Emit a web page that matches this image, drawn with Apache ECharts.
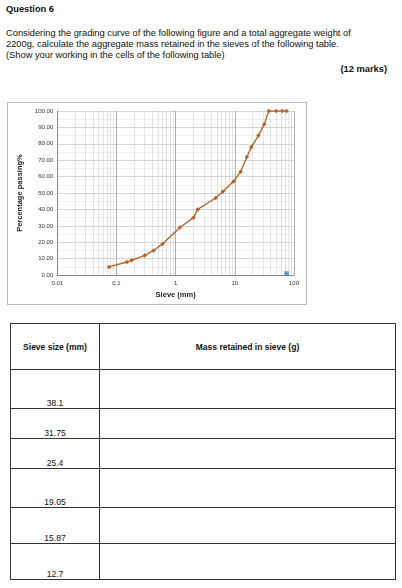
<!DOCTYPE html>
<html><head><meta charset="utf-8">
<script src="https://cdn.jsdelivr.net/npm/echarts@6/dist/echarts.min.js"></script>
<style>
body{margin:0;width:402px;height:588px;background:#fff;font-family:"Liberation Sans",Arial,sans-serif;color:#111;position:relative;overflow:hidden}
.t{position:absolute;font-size:9.3px;line-height:11px}
#c{position:absolute;left:7px;top:102px;width:300px;height:203px;border:1px solid #bbb;box-sizing:border-box}
table{position:absolute;left:10px;top:323px;width:386px;border-collapse:collapse;font-size:8.5px}
td{border:1.5px solid #333;padding:0;text-align:center;vertical-align:bottom}
</style></head><body>
<div class="t" style="left:6px;top:4px;font-weight:bold">Question 6</div>
<div class="t" style="left:6px;top:28px">Considering the grading curve of the following figure and a total aggregate weight of<br>2200g, calculate the aggregate mass retained in the sieves of the following table.<br>(Show your working in the cells of the following table)</div>
<div class="t" style="right:15px;top:64px;font-weight:bold">(12 marks)</div>
<div id="c"></div>
<table id="tb"></table>
<script>
var sieves=[0.075,0.15,0.18,0.3,0.425,0.6,1.18,2,2.36,4.75,6.3,9.5,12.5,16,19,25,31.5,37.5,50,63,75];
var passing=[5,8,9,12,15,19,29,35,40,47,51,57,63,72,78,85,92,100,100,100,100];
var extraPoint=[[75,1]];
var tableSieves=["38.1","31.75","25.4","19.05","15.87","12.7"];
var rowHeights=[39,30,30,39,36,36];
var tb=document.getElementById('tb');
tb.innerHTML='<tr style="height:46px"><td style="width:88px;vertical-align:middle;font-weight:bold">Sieve size (mm)</td><td style="vertical-align:middle;font-weight:bold">Mass retained in sieve (g)</td></tr>'+
tableSieves.map(function(s,i){return '<tr style="height:'+rowHeights[i]+'px"><td>'+s+'</td><td></td></tr>';}).join('');
var ch=echarts.init(document.getElementById('c'));
var ax={fontSize:6,color:'#333'};
ch.setOption({animation:false,
grid:{left:40,right:12,top:8,bottom:22},
xAxis:{type:'log',logBase:10,min:0.01,max:100,name:'Sieve (mm)',nameLocation:'middle',nameGap:11,
 nameTextStyle:{fontSize:7.5,fontWeight:'bold',color:'#222'},
 axisLabel:Object.assign({margin:5,formatter:function(v){return String(+v.toPrecision(2));}},ax),
 axisLine:{lineStyle:{color:'#888'}},axisTick:{show:false},
 splitLine:{lineStyle:{color:'#999',width:0.8}},
 minorTick:{show:false,splitNumber:9},minorSplitLine:{show:true,lineStyle:{color:'#c8c8c8',width:0.5}}},
yAxis:{type:'value',min:0,max:100,interval:10,name:'Percentage passing%',nameLocation:'middle',nameGap:28,
 nameTextStyle:{fontSize:7.5,fontWeight:'bold',color:'#222'},
 axisLabel:Object.assign({margin:4,formatter:function(v){return v.toFixed(2);}},ax),
 axisLine:{show:true,lineStyle:{color:'#888'}},axisTick:{show:false},
 splitLine:{lineStyle:{color:'#bbb',width:0.6}},
 minorSplitLine:{show:true,lineStyle:{color:'#e0e0e0',width:0.5}},minorTick:{splitNumber:2}},
series:[{type:'line',data:sieves.map(function(s,i){return [s,passing[i]];}),
 symbol:'diamond',symbolSize:4.5,lineStyle:{color:'#b5652a',width:1.4},itemStyle:{color:'#b5652a'}},
 {type:'scatter',data:extraPoint,symbol:'rect',symbolSize:4.5,itemStyle:{color:'#3a7fc0'}}]
});
</script></body></html>
